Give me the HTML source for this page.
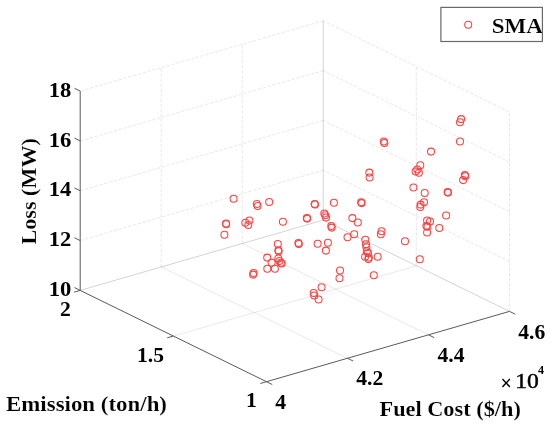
<!DOCTYPE html>
<html><head><meta charset="utf-8"><style>
html,body{margin:0;padding:0;background:#fff;}
svg{display:block;filter:blur(0.25px);}
.gw{stroke:#262626;stroke-opacity:0.1;stroke-width:1;stroke-dasharray:3.5 1.5;fill:none;}
.gf{stroke:#262626;stroke-opacity:0.1;stroke-width:1;fill:none;}
.ge{stroke:#262626;stroke-opacity:0.2;stroke-width:1;fill:none;}
.a{stroke:#5a5a5a;stroke-width:1;fill:none;}
.m{stroke:#ff4040;stroke-width:1.05;fill:none;}
text{font-family:"Liberation Serif",serif;font-weight:bold;fill:#000;}
.t{font-size:21.6px;}
.lab{font-size:21px;stroke:#fff;stroke-width:0.15;}
.exp{font-size:21px;font-weight:normal;}
.ten{font-weight:normal;}
.sup{font-size:12px;font-weight:bold;}
</style></head><body>
<svg width="550" height="426" viewBox="0 0 550 426">
<rect width="550" height="426" fill="#fff"/>
<line x1="347.50" y1="358.27" x2="161.20" y2="266.97" class="gf"/><line x1="428.50" y1="334.83" x2="242.20" y2="243.53" class="gf"/><line x1="173.35" y1="336.05" x2="416.35" y2="265.75" class="gf"/><line x1="161.20" y1="266.97" x2="161.20" y2="67.67" class="gw"/><line x1="242.20" y1="243.53" x2="242.20" y2="44.23" class="gw"/><line x1="80.20" y1="240.57" x2="323.20" y2="170.28" class="gw"/><line x1="80.20" y1="190.75" x2="323.20" y2="120.45" class="gw"/><line x1="80.20" y1="140.92" x2="323.20" y2="70.62" class="gw"/><line x1="80.20" y1="91.10" x2="323.20" y2="20.80" class="gw"/><line x1="509.50" y1="311.40" x2="509.50" y2="112.10" class="gw"/><line x1="416.35" y1="265.75" x2="416.35" y2="66.45" class="gw"/><line x1="509.50" y1="261.58" x2="323.20" y2="170.28" class="gw"/><line x1="509.50" y1="211.75" x2="323.20" y2="120.45" class="gw"/><line x1="509.50" y1="161.93" x2="323.20" y2="70.62" class="gw"/><line x1="509.50" y1="112.10" x2="323.20" y2="20.80" class="gw"/><line x1="80.20" y1="290.40" x2="323.20" y2="220.10" class="ge"/><line x1="509.50" y1="311.40" x2="323.20" y2="220.10" class="ge"/><line x1="323.20" y1="220.10" x2="323.20" y2="20.80" class="ge"/><line x1="266.50" y1="381.70" x2="509.50" y2="311.40" class="a"/><line x1="266.50" y1="381.70" x2="80.20" y2="290.40" class="a"/><line x1="80.20" y1="290.40" x2="80.20" y2="91.10" class="a"/><line x1="266.50" y1="381.70" x2="272.25" y2="384.52" class="a"/><line x1="347.50" y1="358.27" x2="353.25" y2="361.08" class="a"/><line x1="428.50" y1="334.83" x2="434.25" y2="337.65" class="a"/><line x1="509.50" y1="311.40" x2="515.25" y2="314.22" class="a"/><line x1="266.50" y1="381.70" x2="260.35" y2="383.48" class="a"/><line x1="173.35" y1="336.05" x2="167.20" y2="337.83" class="a"/><line x1="80.20" y1="290.40" x2="74.05" y2="292.18" class="a"/><line x1="80.20" y1="290.40" x2="74.45" y2="287.58" class="a"/><line x1="80.20" y1="240.57" x2="74.45" y2="237.76" class="a"/><line x1="80.20" y1="190.75" x2="74.45" y2="187.93" class="a"/><line x1="80.20" y1="140.92" x2="74.45" y2="138.11" class="a"/><line x1="80.20" y1="91.10" x2="74.45" y2="88.28" class="a"/>
<circle cx="233.6" cy="198.8" r="3.5" class="m"/><circle cx="256.8" cy="203.9" r="3.5" class="m"/><circle cx="257.6" cy="205.9" r="3.5" class="m"/><circle cx="269.2" cy="202.0" r="3.5" class="m"/><circle cx="226.0" cy="223.5" r="3.5" class="m"/><circle cx="226.2" cy="224.3" r="3.5" class="m"/><circle cx="224.4" cy="234.7" r="3.5" class="m"/><circle cx="245.3" cy="222.7" r="3.5" class="m"/><circle cx="249.4" cy="220.5" r="3.5" class="m"/><circle cx="248.3" cy="224.9" r="3.5" class="m"/><circle cx="282.9" cy="221.8" r="3.5" class="m"/><circle cx="277.8" cy="243.9" r="3.5" class="m"/><circle cx="278.4" cy="250.3" r="3.5" class="m"/><circle cx="278.6" cy="251.2" r="3.5" class="m"/><circle cx="267.2" cy="257.6" r="3.5" class="m"/><circle cx="271.6" cy="262.7" r="3.5" class="m"/><circle cx="267.3" cy="268.8" r="3.5" class="m"/><circle cx="274.9" cy="268.8" r="3.5" class="m"/><circle cx="278.3" cy="258.5" r="3.5" class="m"/><circle cx="279.3" cy="261.0" r="3.5" class="m"/><circle cx="280.9" cy="262.7" r="3.5" class="m"/><circle cx="281.7" cy="263.5" r="3.5" class="m"/><circle cx="253.6" cy="272.9" r="3.5" class="m"/><circle cx="253.1" cy="274.6" r="3.5" class="m"/><circle cx="314.6" cy="203.9" r="3.5" class="m"/><circle cx="315.0" cy="204.5" r="3.5" class="m"/><circle cx="333.9" cy="202.7" r="3.5" class="m"/><circle cx="306.8" cy="218.0" r="3.5" class="m"/><circle cx="307.2" cy="218.6" r="3.5" class="m"/><circle cx="324.3" cy="213.4" r="3.5" class="m"/><circle cx="325.2" cy="215.3" r="3.5" class="m"/><circle cx="326.0" cy="217.4" r="3.5" class="m"/><circle cx="331.3" cy="226.0" r="3.5" class="m"/><circle cx="331.7" cy="227.6" r="3.5" class="m"/><circle cx="298.4" cy="242.9" r="3.5" class="m"/><circle cx="298.8" cy="243.9" r="3.5" class="m"/><circle cx="317.6" cy="243.8" r="3.5" class="m"/><circle cx="327.9" cy="242.8" r="3.5" class="m"/><circle cx="325.9" cy="250.6" r="3.5" class="m"/><circle cx="347.5" cy="237.2" r="3.5" class="m"/><circle cx="340.0" cy="270.4" r="3.5" class="m"/><circle cx="339.5" cy="278.3" r="3.5" class="m"/><circle cx="321.6" cy="287.3" r="3.5" class="m"/><circle cx="313.7" cy="292.9" r="3.5" class="m"/><circle cx="314.2" cy="295.5" r="3.5" class="m"/><circle cx="318.6" cy="299.5" r="3.5" class="m"/><circle cx="413.4" cy="187.4" r="3.5" class="m"/><circle cx="361.2" cy="202.3" r="3.5" class="m"/><circle cx="361.6" cy="203.1" r="3.5" class="m"/><circle cx="352.4" cy="218.1" r="3.5" class="m"/><circle cx="357.8" cy="222.4" r="3.5" class="m"/><circle cx="354.2" cy="234.3" r="3.5" class="m"/><circle cx="381.5" cy="231.3" r="3.5" class="m"/><circle cx="380.8" cy="234.2" r="3.5" class="m"/><circle cx="405.0" cy="241.3" r="3.5" class="m"/><circle cx="365.3" cy="239.8" r="3.5" class="m"/><circle cx="366.0" cy="244.3" r="3.5" class="m"/><circle cx="366.4" cy="247.2" r="3.5" class="m"/><circle cx="366.8" cy="251.3" r="3.5" class="m"/><circle cx="368.0" cy="253.0" r="3.5" class="m"/><circle cx="365.1" cy="256.7" r="3.5" class="m"/><circle cx="368.8" cy="257.5" r="3.5" class="m"/><circle cx="368.4" cy="259.1" r="3.5" class="m"/><circle cx="377.7" cy="256.8" r="3.5" class="m"/><circle cx="373.8" cy="275.3" r="3.5" class="m"/><circle cx="424.7" cy="193.0" r="3.5" class="m"/><circle cx="447.6" cy="192.0" r="3.5" class="m"/><circle cx="448.0" cy="192.6" r="3.5" class="m"/><circle cx="424.0" cy="202.2" r="3.5" class="m"/><circle cx="420.6" cy="204.6" r="3.5" class="m"/><circle cx="420.3" cy="206.9" r="3.5" class="m"/><circle cx="446.1" cy="215.5" r="3.5" class="m"/><circle cx="427.1" cy="220.5" r="3.5" class="m"/><circle cx="430.0" cy="221.5" r="3.5" class="m"/><circle cx="426.4" cy="226.1" r="3.5" class="m"/><circle cx="427.5" cy="226.8" r="3.5" class="m"/><circle cx="427.1" cy="232.4" r="3.5" class="m"/><circle cx="439.3" cy="227.9" r="3.5" class="m"/><circle cx="419.8" cy="259.2" r="3.5" class="m"/><circle cx="383.8" cy="141.4" r="3.5" class="m"/><circle cx="384.4" cy="143.0" r="3.5" class="m"/><circle cx="369.3" cy="172.6" r="3.5" class="m"/><circle cx="369.6" cy="177.5" r="3.5" class="m"/><circle cx="461.1" cy="119.1" r="3.5" class="m"/><circle cx="460.0" cy="122.3" r="3.5" class="m"/><circle cx="460.0" cy="141.4" r="3.5" class="m"/><circle cx="431.0" cy="151.6" r="3.5" class="m"/><circle cx="420.3" cy="165.3" r="3.5" class="m"/><circle cx="417.3" cy="169.4" r="3.5" class="m"/><circle cx="415.6" cy="171.4" r="3.5" class="m"/><circle cx="418.9" cy="172.7" r="3.5" class="m"/><circle cx="464.8" cy="175.1" r="3.5" class="m"/><circle cx="465.3" cy="176.2" r="3.5" class="m"/><circle cx="463.1" cy="180.1" r="3.5" class="m"/>
<text x="71.3" y="296.09999999999997" text-anchor="end" class="t" textLength="22.6" lengthAdjust="spacingAndGlyphs">10</text><text x="71.3" y="246.27499999999998" text-anchor="end" class="t" textLength="22.6" lengthAdjust="spacingAndGlyphs">12</text><text x="71.3" y="196.44999999999996" text-anchor="end" class="t" textLength="22.6" lengthAdjust="spacingAndGlyphs">14</text><text x="71.3" y="146.62499999999994" text-anchor="end" class="t" textLength="22.6" lengthAdjust="spacingAndGlyphs">16</text><text x="71.3" y="96.79999999999997" text-anchor="end" class="t" textLength="22.6" lengthAdjust="spacingAndGlyphs">18</text><text x="65.3" y="315.5" text-anchor="middle" class="t" >2</text><text x="150.5" y="361.5" text-anchor="middle" class="t" >1.5</text><text x="251.5" y="407.3" text-anchor="middle" class="t" >1</text><text x="280.7" y="408.7" text-anchor="middle" class="t" >4</text><text x="369.7" y="385.3" text-anchor="middle" class="t" >4.2</text><text x="451.0" y="362.3" text-anchor="middle" class="t" >4.4</text><text x="531.8" y="339.0" text-anchor="middle" class="t" >4.6</text><text x="6.0" y="411.2" text-anchor="start" class="lab" textLength="161" lengthAdjust="spacingAndGlyphs">Emission (ton/h)</text><text x="379.5" y="416.3" text-anchor="start" class="lab" textLength="141.4" lengthAdjust="spacingAndGlyphs">Fuel Cost ($/h)</text><text x="36.3" y="191.3" text-anchor="middle" class="lab" textLength="106.5" lengthAdjust="spacingAndGlyphs" transform="rotate(-90 36.3 191.3)">Loss (MW)</text><text x="500.5" y="389.6" class="exp" style="font-weight:bold;font-size:20px">&#215;</text><text x="515.2" y="388" class="exp" style="stroke:#000;stroke-width:0.45" textLength="23.6" lengthAdjust="spacingAndGlyphs">10</text><text x="538" y="373.5" class="sup">4</text>
<rect x="440.9" y="7.4" width="101.5" height="34.1" fill="#fff" stroke="#6a6a6a" stroke-width="1.2"/>
<circle cx="468.2" cy="24.7" r="3.5" class="m"/>
<text x="491.7" y="33" class="lab" textLength="51.2" lengthAdjust="spacingAndGlyphs">SMA</text>
</svg>
</body></html>
